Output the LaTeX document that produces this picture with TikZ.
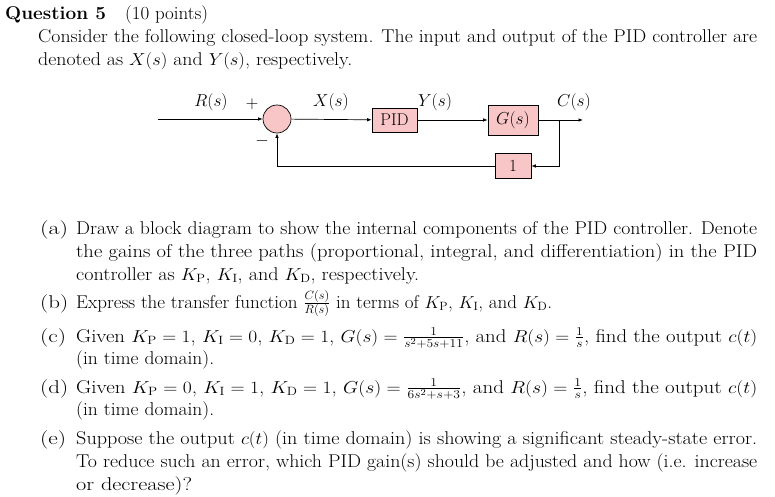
\documentclass[tikz,border=0pt]{standalone}
\usepackage{amsmath}
\usetikzlibrary{arrows.meta}
\definecolor{blk}{RGB}{248,198,198}
\newcommand{\tl}[4]{\node[anchor=base west,inner sep=0pt] at (#1,-#2) {\resizebox{#3pt}{\height}{#4}};}
\newcommand{\tn}[3]{\node[anchor=base west,inner sep=0pt] at (#1,-#2) {#3};}
\begin{document}
\begin{tikzpicture}[x=1pt,y=1pt,
  box/.style={draw,line width=0.7pt,fill=blk,minimum height=24pt,inner sep=2pt,font=\fontsize{17}{19}\selectfont},
  sig/.style={-{Latex[length=4.5pt,width=3.5pt]},line width=0.7pt},
  lab/.style={font=\fontsize{17}{19}\selectfont,inner sep=0pt}]
\useasboundingbox (0,0) rectangle (775,-497);
\fontsize{18.5}{21}\selectfont
\tl{5}{20}{203}{\textbf{Question 5}\quad (10 points)}
\tl{38}{43}{719}{Consider the following closed-loop system. The input and output of the PID controller are}
\tl{38}{66}{314}{denoted as $X(s)$ and $Y(s)$, respectively.}
\tl{40}{234}{28}{(a)}
\tl{76}{234}{681}{Draw a block diagram to show the internal components of the PID controller. Denote}
\tl{76}{257}{681}{the gains of the three paths (proportional, integral, and differentiation) in the PID}
\tl{76}{280}{343}{controller as $K_{\mathrm P}$, $K_{\mathrm I}$, and $K_{\mathrm D}$, respectively.}
\tl{40}{308}{28}{(b)}
\tl{76}{308}{476}{Express the transfer function $\frac{C(s)}{R(s)}$ in terms of $K_{\mathrm P}$, $K_{\mathrm I}$, and $K_{\mathrm D}$.}
\tl{40}{342}{26}{(c)}
\tl{76}{342}{681}{Given $K_{\mathrm P}=1$, $K_{\mathrm I}=0$, $K_{\mathrm D}=1$, $G(s)=\frac{1}{s^2+5s+11}$, and $R(s)=\frac{1}{s}$, find the output $c(t)$}
\tl{76}{364}{138}{(in time domain).}
\tl{40}{393}{28}{(d)}
\tl{76}{393}{681}{Given $K_{\mathrm P}=0$, $K_{\mathrm I}=1$, $K_{\mathrm D}=1$, $G(s)=\frac{1}{6s^2+s+3}$, and $R(s)=\frac{1}{s}$, find the output $c(t)$}
\tl{76}{415}{138}{(in time domain).}
\tl{40}{444}{26}{(e)}
\tl{76}{444}{681}{Suppose the output $c(t)$ (in time domain) is showing a significant steady-state error.}
\tl{76}{467}{681}{To reduce such an error, which PID gain(s) should be adjusted and how (i.e. increase}
\tl{76}{490}{116}{or decrease)?}
% diagram
\coordinate (in) at (158,-119);
\node[draw,line width=0.7pt,fill=blk,circle,minimum size=28pt,inner sep=0pt] (sum) at (277,-119) {};
\node[box,minimum width=45pt] (pid) at (394.5,-120) {PID};
\node[box,minimum width=50pt,minimum height=30pt] (g) at (513,-120) {$G(s)$};
\node[box,minimum width=36pt,minimum height=25pt] (h) at (513,-166) {1};
\coordinate (br) at (559,-120);
\coordinate (out) at (583,-120);
\draw[sig] (in) -- (sum);
\draw[sig] (sum) -- (pid);
\draw[sig] (pid) -- (g);
\draw[sig] (g) -- (out);
\draw[sig] (br) |- (h);
\draw[sig] (h) -| (sum);
\node[lab] at (211,-102) {$R(s)$};
\node[lab] at (252,-104) {$+$};
\node[lab] at (262,-141) {$-$};
\node[lab] at (331,-102) {$X(s)$};
\node[lab] at (435,-102) {$Y(s)$};
\node[lab] at (574,-102) {$C(s)$};
\end{tikzpicture}
\end{document}
